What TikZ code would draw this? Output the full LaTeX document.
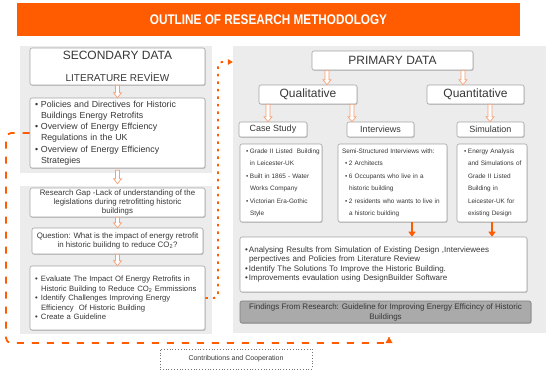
\documentclass[tikz,border=0pt]{standalone}
\usepackage{fontspec}
\setmainfont{Liberation Sans}
\usepackage{graphicx}
\usetikzlibrary{calc,shadows,arrows.meta}
\definecolor{ttlorange}{RGB}{255,91,0}
\definecolor{panelgray}{RGB}{236,236,236}
\definecolor{boxline}{RGB}{165,165,165}
\definecolor{txt}{RGB}{55,55,55}
\definecolor{lightorange}{RGB}{248,160,115}
\definecolor{findfill}{RGB}{170,170,170}
\definecolor{findline}{RGB}{125,125,125}
\newcommand\fs[2]{\fontsize{#1}{#2}\selectfont}
\newcommand\bl[2]{\mbox{\makebox[#1][l]{\textbullet}#2}}
\newcommand\cl[2]{\mbox{\hspace*{#1}#2}}
\newcommand\hdown[2]{\draw[hollowarr] ($#1+(-2,0)$) -- ($#2+(-2,-5)$) -- ($#2+(-4,-5)$) -- #2 -- ($#2+(4,-5)$) -- ($#2+(2,-5)$) -- ($#1+(2,0)$) -- cycle;}
\begin{document}
\begin{tikzpicture}[x=1pt,y=-1pt,
  panel/.style={fill=panelgray, draw=none, inner sep=0pt},
  box/.style={draw=boxline, fill=white, rounded corners=2pt, line width=0.6pt, text=txt, inner sep=0pt,
    drop shadow={shadow xshift=0.7pt, shadow yshift=-0.9pt, opacity=0.3, fill=black!60}},
  titlebox/.style={fill=ttlorange, text=white, inner sep=0pt, minimum width=503pt, minimum height=33pt},
  hollowarr/.style={draw=lightorange, fill=white, line width=0.7pt, line join=miter},
  solidarr/.style={draw=ttlorange, line width=2pt, -{Triangle[length=5pt,width=7pt]}},
  dashline/.style={draw=ttlorange, line width=1.8pt, dash pattern=on 7pt off 8pt, rounded corners=5pt},
  dotline/.style={draw=ttlorange, line width=1.8pt, dash pattern=on 2.5pt off 5pt, rounded corners=4pt},
  contribbox/.style={draw=black!55, dotted, line width=0.8pt, fill=white, text=txt, inner sep=0pt}
]
\useasboundingbox (0,0) rectangle (550,372);
\fill[white] (0,0) rectangle (550,372);

% title
\node[titlebox] (ttl) at (268.5,19.5) {\scalebox{0.84}[1]{\fs{14}{16}\bfseries OUTLINE OF RESEARCH METHODOLOGY}};

% panels
\node[panel, minimum width=192pt, minimum height=127pt] (lpa) at (116,109.5) {};
\node[panel, minimum width=192pt, minimum height=148pt] (lpb) at (116,259.5) {};
\node[panel, minimum width=313pt, minimum height=287pt] (rp) at (389.5,189.5) {};

% left column
\node[box, minimum width=175pt, minimum height=37pt, align=center, font=\fs{10}{22.3}] (sec) at (117.5,66.5)
  {{\fs{12}{22.3}SECONDARY DATA}\\LITERATURE REVİEW};
\node[box, minimum width=175pt, minimum height=70pt, text width=165pt, inner xsep=5pt, align=left, font=\fs{8.8}{11.3}] (lit) at (117.5,133)
  {\bl{6pt}{Policies and Directives for Historic}\\\cl{6pt}{Buildings Energy Retrofits}\\\bl{6pt}{Overview of Energy Effciency}\\\cl{6pt}{Regulations in the UK}\\\bl{6pt}{Overview of Energy Efficiency}\\\cl{6pt}{Strategies}};
\node[box, minimum width=175pt, minimum height=29pt, align=center, font=\fs{7.9}{9.2}] (gap) at (117.5,202.5)
  {Research Gap -Lack of understanding of the\\legislations during retrofitting historic\\buildings};
\node[box, minimum width=171pt, minimum height=26pt, align=center, font=\fs{7.9}{9}] (quest) at (117.5,241)
  {Question: What is the impact of energy retrofit\\in historic builidng to reduce CO\textsubscript{2}?};
\node[box, minimum width=175pt, minimum height=64pt, text width=165pt, inner xsep=5pt, align=left, font=\fs{7.7}{9.4}] (final) at (117.5,298)
  {\bl{6pt}{Evaluate The Impact Of Energy Retrofits in}\\\cl{6pt}{Historic Building to Reduce CO\textsubscript{2} Emmissions}\\\bl{6pt}{Identify Challenges Improving Energy}\\\cl{6pt}{Efficiency\ \ Of Historic Building}\\\bl{6pt}{Create a Guideline}};

% right column
\node[box, minimum width=161pt, minimum height=19pt, font=\fs{12}{14}] (prim) at (392.5,60.5) {PRIMARY DATA};
\node[box, minimum width=98pt, minimum height=19pt, font=\fs{12}{14}] (qual) at (308,94.5) {Qualitative};
\node[box, minimum width=97pt, minimum height=19pt, font=\fs{12}{14}] (quant) at (475.5,94.5) {Quantitative};
\node[box, minimum width=68pt, minimum height=15pt, font=\fs{9}{11}] (case) at (273,129.5) {Case Study};
\node[box, minimum width=67pt, minimum height=15pt, font=\fs{9}{11}] (inter) at (380.5,129.5) {Interviews};
\node[box, minimum width=67pt, minimum height=15pt, font=\fs{9}{11}] (sim) at (490.5,129.5) {Simulation};

\node[box, minimum width=82pt, minimum height=78pt, text width=70pt, inner xsep=6pt, align=left, font=\fs{6.4}{12.5}] (cased) at (281,183)
  {\bl{4pt}{Grade II Listed\ \ Building}\\\cl{4pt}{in Leicester-UK}\\\bl{4pt}{Built in 1865 - Water}\\\cl{4pt}{Works Company}\\\bl{4pt}{Victorian Era-Gothic}\\\cl{4pt}{Style}};
\node[box, minimum width=109pt, minimum height=78pt, text width=101pt, inner xsep=4pt, align=left, font=\fs{6.4}{12.5}] (interd) at (392.5,183)
  {\mbox{Semi-Structured Interviews with:}\\\cl{3pt}{\bl{4pt}{2 Architects}}\\\cl{3pt}{\bl{4pt}{6 Occupants who live in a}}\\\cl{7pt}{historic building}\\\cl{3pt}{\bl{4pt}{2 residents who wants to live in}}\\\cl{7pt}{a historic building}};
\node[box, minimum width=70pt, minimum height=78pt, text width=56pt, inner xsep=7pt, align=left, font=\fs{6.4}{12.5}] (simd) at (492,183)
  {\bl{4pt}{Energy Analysis}\\\cl{4pt}{and Simulations of}\\\cl{4pt}{Grade II Listed}\\\cl{4pt}{Building in}\\\cl{4pt}{Leicester-UK for}\\\cl{4pt}{existing Design}};

\node[box, minimum width=287pt, minimum height=55pt, text width=277pt, inner xsep=5pt, align=left, font=\fs{8}{9.5}] (anal) at (383.5,264.5)
  {\bl{4pt}{Analysing Results from Simulation of Existing Design ,Interviewees}\\\cl{4pt}{perpectives and Policies from Literature Review}\\\bl{4pt}{Identify The Solutions To Improve the Historic Building.}\\\bl{4pt}{Improvements evaulation using DesignBuilder Software}};
\node[box, fill=findfill, draw=findline, minimum width=291pt, minimum height=22pt, align=center, font=\fs{8}{10}] (find) at (385.5,312)
  {Findings From Research: Guideline for Improving Energy Efficincy of Historic\\Buildings};

\node[contribbox, minimum width=152pt, minimum height=20pt, font=\fs{7}{9}] (contrib) at (236,359) {Contributions and Cooperation};

% hollow arrows
\coordinate (a1) at ($(lit.south)+(0,2)$);
\coordinate (a2) at ($(gap.north)+(0,-4)$);
\coordinate (q327) at (327,0);
\coordinate (q463) at (463,0);
\coordinate (q268) at (268,0);
\coordinate (q352) at (352,0);
\coordinate (q490) at (490,0);
\coordinate (q412) at (412,0);
\coordinate (q492) at (492,0);
\hdown{(sec.south)}{(lit.north)}
\hdown{(a1)}{(a2)}
\hdown{(gap.south)}{(quest.north)}
\hdown{(quest.south)}{(final.north)}
\hdown{(prim.south -| q327)}{(qual.north -| q327)}
\hdown{(prim.south -| q463)}{(quant.north -| q463)}
\hdown{(qual.south -| q268)}{(case.north -| q268)}
\hdown{(qual.south -| q352)}{(inter.north -| q352)}
\hdown{(quant.south -| q490)}{(sim.north -| q490)}

% solid arrows
\draw[solidarr] (interd.south -| q412) -- (anal.north -| q412);
\draw[solidarr] (simd.south -| q492) -- (anal.north -| q492);

% dashed loop
\coordinate (l1) at (6,343);
\coordinate (l2) at (389,343);
\coordinate (l3) at (389,337);
\draw[dashline] (lit.west) -| (l1) -- (l2) -- (l3);
\fill[ttlorange] (l3) -- ++(-3.5,6) -- ++(7,0) -- cycle;

% dotted link
\coordinate (d1) at (218,62);
\draw[dotline] (final.east) -| (d1) -- ($(d1 -| rp.west)+(-4,0)$);
\fill[ttlorange] (d1 -| rp.west) -- ++(-5,-3) -- ++(0,6) -- cycle;
\end{tikzpicture}
\end{document}
